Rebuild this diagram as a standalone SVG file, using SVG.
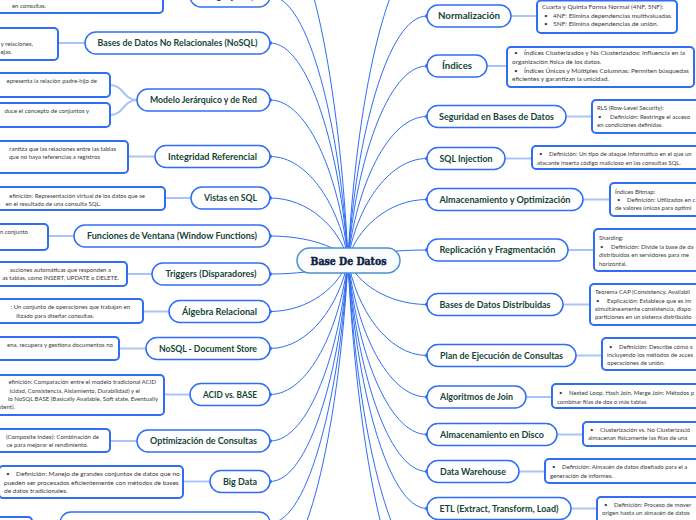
<svg xmlns="http://www.w3.org/2000/svg" width="696" height="520" viewBox="0 0 696 520">
<defs>
<style>
.pill{fill:#fff;stroke:#2f6df6;stroke-width:1.5}
.pt{font-family:Lato,"Open Sans",sans-serif;font-weight:700;font-size:9.5px;fill:#144536;text-anchor:middle}
.box{fill:#fff;stroke:#2f6df6;stroke-width:2}
.dt{font-family:Lato,"Open Sans",sans-serif;font-size:6px;fill:#3a3a3a}
.full{font-size:6.5px}
.de{text-anchor:end}
.link{stroke:#a9c5f8;stroke-width:2;fill:none}
.con{stroke:#2f6df6;stroke-width:1;fill:none;marker-end:url(#knob)}
.root{fill:#fafcff;stroke:#4a92cf;stroke-width:1.5}
.rt{font-family:"DejaVu Serif",serif;font-weight:700;font-size:11px;fill:#0e2241;stroke:#0e2241;stroke-width:0.45;text-anchor:middle}
</style>
<marker id="knob" markerUnits="userSpaceOnUse" markerWidth="6" markerHeight="6" refX="3" refY="3" viewBox="0 0 6 6"><circle cx="3" cy="3" r="2" fill="#2f6df6"/></marker>
</defs>
<rect width="696" height="520" fill="#fff"/>
<g id="connectors">
<path class="con" d="M348 260 C340.2 90 309 -80 270 -80"/>
<path class="con" d="M348 260 C340.2 128 309 -4 270 -4"/>
<path class="con" d="M348 260 C340.2 151.5 309 43 270 43"/>
<path class="con" d="M348 260 C340.2 180 309 100 270 100"/>
<path class="con" d="M348 260 C340.2 208.25 309 156.5 270 156.5"/>
<path class="con" d="M348 260 C340.2 229 309 198 270 198"/>
<path class="con" d="M348 260 C340.2 248 309 236 270 236"/>
<path class="con" d="M348 260 C340.2 267 309 274 270 274"/>
<path class="con" d="M348 260 C340.2 285.75 309 311.5 270 311.5"/>
<path class="con" d="M348 260 C340.2 304.25 309 348.5 270 348.5"/>
<path class="con" d="M348 260 C340.2 327.25 309 394.5 270 394.5"/>
<path class="con" d="M348 260 C340.2 350.5 309 441 270 441"/>
<path class="con" d="M348 260 C340.2 370.75 309 481.5 270 481.5"/>
<path class="con" d="M348 260 C340.2 391.5 309 523 270 523"/>
<path class="con" d="M348 260 C340.2 415 309 570 270 570"/>
<path class="con" d="M348 260 C355.9 105 387.5 -50 427 -50"/>
<path class="con" d="M348 260 C355.9 138 387.5 16 427 16"/>
<path class="con" d="M348 260 C355.9 163 387.5 66 427 66"/>
<path class="con" d="M348 260 C355.9 188.25 387.5 116.5 427 116.5"/>
<path class="con" d="M348 260 C355.9 209.25 387.5 158.5 427 158.5"/>
<path class="con" d="M348 260 C355.9 229.75 387.5 199.5 427 199.5"/>
<path class="con" d="M348 260 C355.9 255 387.5 250 427 250"/>
<path class="con" d="M348 260 C355.9 282.25 387.5 304.5 427 304.5"/>
<path class="con" d="M348 260 C355.9 307.75 387.5 355.5 427 355.5"/>
<path class="con" d="M348 260 C355.9 328.5 387.5 397 427 397"/>
<path class="con" d="M348 260 C355.9 347.25 387.5 434.5 427 434.5"/>
<path class="con" d="M348 260 C355.9 365.75 387.5 471.5 427 471.5"/>
<path class="con" d="M348 260 C355.9 384.25 387.5 508.5 427 508.5"/>
<path class="con" d="M348 260 C355.9 412.5 387.5 565 427 565"/>
<path class="con" d="M348 260 C355.9 435 387.5 610 427 610"/>
<line class="link" x1="163" y1="-4" x2="190" y2="-4"/>
<line class="link" x1="58" y1="43" x2="85" y2="43"/>
<path class="link" d="M137 100 C123 100 124 85 110 85"/>
<path class="link" d="M137 100 C123 100 124 115 110 115"/>
<line class="link" x1="128" y1="156.5" x2="155" y2="156.5"/>
<line class="link" x1="165" y1="198" x2="191" y2="198"/>
<line class="link" x1="48" y1="236" x2="74" y2="236"/>
<line class="link" x1="127" y1="274" x2="152" y2="274"/>
<line class="link" x1="143" y1="311.5" x2="169" y2="311.5"/>
<line class="link" x1="119" y1="348.5" x2="146" y2="348.5"/>
<line class="link" x1="164" y1="394.5" x2="190" y2="394.5"/>
<line class="link" x1="110" y1="441" x2="137" y2="441"/>
<line class="link" x1="183" y1="481.5" x2="210" y2="481.5"/>
<line class="link" x1="32" y1="523" x2="60" y2="523"/>
<line class="link" x1="511" y1="16" x2="537" y2="16"/>
<line class="link" x1="487" y1="66" x2="507" y2="66"/>
<line class="link" x1="566" y1="116.5" x2="592" y2="116.5"/>
<line class="link" x1="505" y1="158.5" x2="532" y2="158.5"/>
<line class="link" x1="583" y1="199.5" x2="610" y2="199.5"/>
<line class="link" x1="568" y1="250" x2="594" y2="250"/>
<line class="link" x1="563" y1="304.5" x2="590" y2="304.5"/>
<line class="link" x1="576" y1="355.5" x2="602" y2="355.5"/>
<line class="link" x1="526" y1="397" x2="552" y2="397"/>
<line class="link" x1="557" y1="434.5" x2="583" y2="434.5"/>
<line class="link" x1="519" y1="471.5" x2="545" y2="471.5"/>
<line class="link" x1="571" y1="508.5" x2="597" y2="508.5"/>
</g>
<g id="root">
<rect class="root" x="297" y="248" width="103" height="25" rx="12.5"/>
<text class="rt" x="348.5" y="264.5" textLength="76" lengthAdjust="spacingAndGlyphs">Base De Datos</text>
</g>
<g id="n-lenguaje">
<rect class="box" x="-10" y="-20" width="173" height="33" rx="4"/>
<text class="dt de" x="46" y="7.5">en consultas.</text>
<rect class="pill" x="190" y="-15" width="80" height="22" rx="11"/>
<text class="pt" x="230" y="-0.7" textLength="56" lengthAdjust="spacingAndGlyphs">Lenguaje SQL</text>
</g>
<g id="n-nosql">
<rect class="box" x="-10" y="28" width="68" height="32" rx="4"/>
<text class="dt de" x="33" y="45.5">y relaciones,</text>
<text class="dt de" x="12" y="54">ejas.</text>
<rect class="pill" x="85" y="32" width="185" height="22" rx="11"/>
<text class="pt" x="177.5" y="46.3" textLength="160" lengthAdjust="spacingAndGlyphs">Bases de Datos No Relacionales (NoSQL)</text>
</g>
<g id="n-modelo">
<rect class="box" x="-10" y="73" width="120" height="24" rx="4"/>
<text class="dt de" x="97" y="83">epresenta la relación padre-hijo de</text>
<rect class="box" x="-10" y="103" width="120" height="24" rx="4"/>
<text class="dt de" x="89" y="113">duce el concepto de conjuntos y</text>
<rect class="pill" x="137" y="89" width="133" height="22" rx="11"/>
<text class="pt" x="203.5" y="103.3" textLength="107" lengthAdjust="spacingAndGlyphs">Modelo Jerárquico y de Red</text>
</g>
<g id="n-integridad">
<rect class="box" x="-10" y="141" width="138" height="32" rx="4"/>
<text class="dt de" x="116" y="151">rantiza que las relaciones entre las tablas</text>
<text class="dt de" x="100" y="159">que no haya referencias a registros</text>
<rect class="pill" x="155" y="145.5" width="115" height="22" rx="11"/>
<text class="pt" x="212.5" y="159.8" textLength="89" lengthAdjust="spacingAndGlyphs">Integridad Referencial</text>
</g>
<g id="n-vistas">
<rect class="box" x="-10" y="187" width="175" height="23" rx="4"/>
<text class="dt de" x="145" y="198">efinición: Representación virtual de los datos que se</text>
<text class="dt de" x="101" y="205.5">en el resultado de una consulta SQL.</text>
<rect class="pill" x="191" y="187" width="79" height="22" rx="11"/>
<text class="pt" x="230.5" y="201.3" textLength="53" lengthAdjust="spacingAndGlyphs">Vistas en SQL</text>
</g>
<g id="n-funciones">
<rect class="box" x="-10" y="224" width="58" height="26" rx="4"/>
<text class="dt de" x="28" y="234">n conjunto</text>
<rect class="pill" x="74" y="225" width="196" height="22" rx="11"/>
<text class="pt" x="172" y="239.3" textLength="170" lengthAdjust="spacingAndGlyphs">Funciones de Ventana (Window Functions)</text>
</g>
<g id="n-triggers">
<rect class="box" x="-10" y="262" width="137" height="24" rx="4"/>
<text class="dt de" x="111" y="272">acciones automáticas que responden a</text>
<text class="dt de" x="119" y="280">as tablas, como INSERT, UPDATE o DELETE.</text>
<rect class="pill" x="152" y="263" width="118" height="22" rx="11"/>
<text class="pt" x="211" y="277.3" textLength="91" lengthAdjust="spacingAndGlyphs">Triggers (Disparadores)</text>
</g>
<g id="n-algebra">
<rect class="box" x="-10" y="299" width="153" height="24" rx="4"/>
<text class="dt de" x="130" y="309">: Un conjunto de operaciones que trabajan en</text>
<text class="dt de" x="94" y="318">ilizado para diseñar consultas.</text>
<rect class="pill" x="169" y="300.5" width="101" height="22" rx="11"/>
<text class="pt" x="219.5" y="314.8" textLength="75" lengthAdjust="spacingAndGlyphs">Álgebra Relacional</text>
</g>
<g id="n-docstore">
<rect class="box" x="-10" y="337" width="129" height="23" rx="4"/>
<text class="dt de" x="113" y="347">ena, recupera y gestiona documentos no</text>
<rect class="pill" x="146" y="337.5" width="124" height="22" rx="11"/>
<text class="pt" x="208" y="351.8" textLength="98" lengthAdjust="spacingAndGlyphs">NoSQL - Document Store</text>
</g>
<g id="n-acid">
<rect class="box" x="-10" y="375" width="174" height="40" rx="4"/>
<text class="dt de" x="156" y="384">efinición: Comparación entre el modelo tradicional ACID</text>
<text class="dt de" x="140" y="393">icidad, Consistencia, Aislamiento, Durabilidad) y el</text>
<text class="dt de" x="158" y="401">lo NoSQL BASE (Basically Available, Soft state, Eventually</text>
<text class="dt de" x="15" y="409">stent).</text>
<rect class="pill" x="190" y="383.5" width="80" height="22" rx="11"/>
<text class="pt" x="230" y="397.8" textLength="54" lengthAdjust="spacingAndGlyphs">ACID vs. BASE</text>
</g>
<g id="n-optimizacion">
<rect class="box" x="-10" y="429" width="120" height="23" rx="4"/>
<text class="dt de" x="99" y="439">(Composite Index): Combinación de</text>
<text class="dt de" x="88" y="447">ce para mejorar el rendimiento.</text>
<rect class="pill" x="137" y="430" width="133" height="22" rx="11"/>
<text class="pt" x="203.5" y="444.3" textLength="107" lengthAdjust="spacingAndGlyphs">Optimización de Consultas</text>
</g>
<g id="n-bigdata">
<rect class="box" x="-1" y="466" width="184" height="32" rx="4"/>
<text class="dt full" y="476"><tspan x="6">•</tspan><tspan x="16">Definición: Manejo de grandes conjuntos de datos que no</tspan></text>
<text class="dt full" x="4" y="485">pueden ser procesados eficientemente con métodos de bases</text>
<text class="dt full" x="4" y="493">de datos tradicionales.</text>
<rect class="pill" x="210" y="470.5" width="60" height="22" rx="11"/>
<text class="pt" x="240" y="484.8" textLength="34" lengthAdjust="spacingAndGlyphs">Big Data</text>
</g>
<g id="n-bottom">
<rect class="box" x="-10" y="517" width="42" height="20" rx="4"/>
<rect class="pill" x="60" y="512" width="210" height="22" rx="11"/>
</g>
<g id="n-normalizacion">
<rect class="pill" x="427" y="5" width="84" height="22" rx="11"/>
<text class="pt" x="469" y="19.3" textLength="62" lengthAdjust="spacingAndGlyphs">Normalización</text>
<rect class="box" x="537" y="0.5" width="140" height="32.5" rx="4"/>
<text class="dt full" x="542" y="9">Cuarta y Quinta Forma Normal (4NF, 5NF):</text>
<text class="dt full" y="18"><tspan x="544">•</tspan><tspan x="553">4NF: Elimina dependencias multivaluadas.</tspan></text>
<text class="dt full" y="26"><tspan x="544">•</tspan><tspan x="553">5NF: Elimina dependencias de unión.</tspan></text>
</g>
<g id="n-indices">
<rect class="pill" x="427" y="55" width="60" height="22" rx="11"/>
<text class="pt" x="457" y="69.3" textLength="30" lengthAdjust="spacingAndGlyphs">Índices</text>
<rect class="box" x="507" y="47" width="187" height="40" rx="4"/>
<text class="dt full" y="55"><tspan x="514">•</tspan><tspan x="524">Índices Clusterizados y No Clusterizados: Influencia en la</tspan></text>
<text class="dt full" x="512" y="64">organización física de los datos.</text>
<text class="dt full" y="73"><tspan x="514">•</tspan><tspan x="524">Índices Únicos y Múltiples Columnas: Permiten búsquedas</tspan></text>
<text class="dt full" x="512" y="81">eficientes y garantizan la unicidad.</text>
</g>
<g id="n-seguridad">
<rect class="pill" x="427" y="105.5" width="139" height="22" rx="11"/>
<text class="pt" x="496.5" y="119.8" textLength="115" lengthAdjust="spacingAndGlyphs">Seguridad en Bases de Datos</text>
<rect class="box" x="592" y="100" width="130" height="33" rx="4"/>
<text class="dt" x="597" y="110">RLS (Row-Level Security):</text>
<text class="dt" y="119"><tspan x="598">•</tspan><tspan x="610">Definición: Restringe el acceso</tspan></text>
<text class="dt" x="597" y="127">en condiciones definidas.</text>
</g>
<g id="n-sqlinjection">
<rect class="pill" x="427" y="147.5" width="78" height="22" rx="11"/>
<text class="pt" x="466" y="161.8" textLength="53" lengthAdjust="spacingAndGlyphs">SQL Injection</text>
<rect class="box" x="532" y="146" width="190" height="23" rx="4"/>
<text class="dt" y="156"><tspan x="539">•</tspan><tspan x="549">Definición: Un tipo de ataque informático en el que un</tspan></text>
<text class="dt" x="537" y="165">atacante inserta código malicioso en las consultas SQL.</text>
</g>
<g id="n-almopt">
<rect class="pill" x="427" y="188.5" width="156" height="22" rx="11"/>
<text class="pt" x="505" y="202.8" textLength="131" lengthAdjust="spacingAndGlyphs">Almacenamiento y Optimización</text>
<rect class="box" x="610" y="183" width="112" height="33" rx="4"/>
<text class="dt" x="615" y="194">Índices Bitmap:</text>
<text class="dt" y="202"><tspan x="617">•</tspan><tspan x="627">Definición: Utilizados en c</tspan></text>
<text class="dt" x="615" y="210">de valores únicos para optimi</text>
</g>
<g id="n-replicacion">
<rect class="pill" x="427" y="239" width="141" height="22" rx="11"/>
<text class="pt" x="497.5" y="253.3" textLength="116" lengthAdjust="spacingAndGlyphs">Replicación y Fragmentación</text>
<rect class="box" x="594" y="229" width="128" height="42" rx="4"/>
<text class="dt" x="599" y="240">Sharding:</text>
<text class="dt" y="248.5"><tspan x="600">•</tspan><tspan x="611">Definición: Divide la base de da</tspan></text>
<text class="dt" x="599" y="257">distribuidos en servidores para me</text>
<text class="dt" x="599" y="265.5">horizontal.</text>
</g>
<g id="n-distribuidas">
<rect class="pill" x="427" y="293.5" width="136" height="22" rx="11"/>
<text class="pt" x="495" y="307.8" textLength="111" lengthAdjust="spacingAndGlyphs">Bases de Datos Distribuidas</text>
<rect class="box" x="590" y="284" width="132" height="41" rx="4"/>
<text class="dt" x="595" y="294">Teorema CAP (Consistency, Availabil</text>
<text class="dt" y="303"><tspan x="596">•</tspan><tspan x="607">Explicación: Establece que es im</tspan></text>
<text class="dt" x="595" y="311">simultáneamente consistencia, dispo</text>
<text class="dt" x="595" y="319">particiones en un sistema distribuido</text>
</g>
<g id="n-plan">
<rect class="pill" x="427" y="344.5" width="149" height="22" rx="11"/>
<text class="pt" x="501.5" y="358.8" textLength="123" lengthAdjust="spacingAndGlyphs">Plan de Ejecución de Consultas</text>
<rect class="box" x="602" y="338" width="120" height="32" rx="4"/>
<text class="dt" y="349"><tspan x="609">•</tspan><tspan x="619">Definición: Describe cómo s</tspan></text>
<text class="dt" x="607" y="357">incluyendo los métodos de acces</text>
<text class="dt" x="607" y="365">operaciones de unión.</text>
</g>
<g id="n-join">
<rect class="pill" x="427" y="386" width="99" height="22" rx="11"/>
<text class="pt" x="476.5" y="400.3" textLength="73" lengthAdjust="spacingAndGlyphs">Algoritmos de Join</text>
<rect class="box" x="552" y="384" width="170" height="24" rx="4"/>
<text class="dt" y="395"><tspan x="559">•</tspan><tspan x="569">Nested Loop, Hash Join, Merge Join: Métodos p</tspan></text>
<text class="dt" x="557" y="404">combinar filas de dos o más tablas</text>
</g>
<g id="n-disco">
<rect class="pill" x="427" y="423.5" width="130" height="22" rx="11"/>
<text class="pt" x="492" y="437.8" textLength="104" lengthAdjust="spacingAndGlyphs">Almacenamiento en Disco</text>
<rect class="box" x="583" y="422" width="139" height="24" rx="4"/>
<text class="dt" y="432"><tspan x="590">•</tspan><tspan x="600">Clusterización vs. No Clusterizació</tspan></text>
<text class="dt" x="588" y="440">almacenan físicamente las filas de una</text>
</g>
<g id="n-dw">
<rect class="pill" x="427" y="460.5" width="92" height="22" rx="11"/>
<text class="pt" x="473" y="474.8" textLength="66" lengthAdjust="spacingAndGlyphs">Data Warehouse</text>
<rect class="box" x="545" y="459" width="177" height="24" rx="4"/>
<text class="dt" y="469"><tspan x="552">•</tspan><tspan x="562">Definición: Almacén de datos diseñado para el a</tspan></text>
<text class="dt" x="550" y="478">generación de informes.</text>
</g>
<g id="n-etl">
<rect class="pill" x="427" y="497.5" width="144" height="22" rx="11"/>
<text class="pt" x="499" y="511.8" textLength="119" lengthAdjust="spacingAndGlyphs">ETL (Extract, Transform, Load)</text>
<rect class="box" x="597" y="497" width="125" height="35" rx="4"/>
<text class="dt" y="507"><tspan x="604">•</tspan><tspan x="614">Definición: Proceso de mover</tspan></text>
<text class="dt" x="602" y="515">origen hasta un almacén de datos</text>
</g>
</svg>
